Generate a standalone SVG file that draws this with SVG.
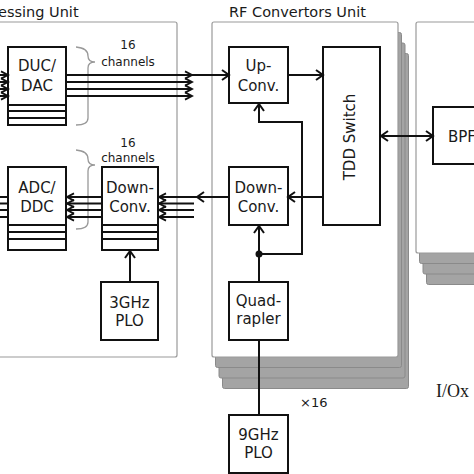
<svg xmlns="http://www.w3.org/2000/svg" width="474" height="474" viewBox="0 0 474 474">
<style>
.panel{fill:#fff;stroke:#9a9a9a;stroke-width:1.2}
.shadow{fill:#a4a4a4;stroke:#8a8a8a;stroke-width:1}
.box{fill:#fff;stroke:#111;stroke-width:2}
.sep{stroke:#111;stroke-width:2}
.lbl{font-family:"DejaVu Sans",Verdana,sans-serif;font-size:15px;fill:#1a1a1a;text-anchor:middle}
.title{font-family:"DejaVu Sans",Verdana,sans-serif;font-size:14.5px;fill:#1a1a1a}
.small{font-family:"DejaVu Sans",Verdana,sans-serif;font-size:12px;fill:#1a1a1a;text-anchor:middle}
.ln{fill:none;stroke:#111;stroke-width:2}
.brace{fill:none;stroke:#999;stroke-width:1.3}
</style>
<defs>
<marker id="ah" viewBox="-9 -7 11 14" markerWidth="11" markerHeight="14" refX="0" refY="0" orient="auto-start-reverse" markerUnits="userSpaceOnUse" overflow="visible"><path d="M-7,-5 L0,0 L-7,5" fill="none" stroke="#111" stroke-width="2"/></marker>
<marker id="as" viewBox="-9 -6 11 12" markerWidth="11" markerHeight="12" refX="0" refY="0" orient="auto" markerUnits="userSpaceOnUse" overflow="visible"><path d="M-7,-3.6 L0,0 L-7,3.6" fill="none" stroke="#111" stroke-width="1.8"/></marker>
</defs>
<rect x="0" y="0" width="474" height="474" fill="#fff"/>

<g id="processing-unit">
<rect class="panel" x="-10" y="22" width="187" height="335" rx="2"/>
<text class="title" x="-2" y="17">essing Unit</text>
</g>

<g id="rf-unit">
<rect class="shadow" x="222.5" y="53.5" width="186" height="335" rx="2"/>
<rect class="shadow" x="219" y="43" width="186" height="335" rx="2"/>
<rect class="shadow" x="215.5" y="32.5" width="186" height="335" rx="2"/>
<rect class="panel" x="212" y="22" width="186" height="335" rx="2"/>
<text class="title" x="229" y="17">RF Convertors Unit</text>
<text x="300" y="407" style="font-family:'DejaVu Sans',sans-serif;font-size:13px;fill:#1a1a1a">×16</text>
</g>

<g id="io-unit">
<rect class="shadow" x="426.5" y="53.5" width="80" height="231" rx="2"/>
<rect class="shadow" x="423" y="43" width="80" height="231" rx="2"/>
<rect class="shadow" x="419.5" y="32.5" width="80" height="231" rx="2"/>
<rect class="panel" x="416" y="22" width="80" height="231" rx="2"/>
<text x="436" y="397" style="font-family:'Liberation Serif',serif;font-size:18px;fill:#1a1a1a">I/Ox</text>
</g>

<g id="duc-dac">
<rect class="box" x="8" y="47" width="58" height="78"/>
<line class="sep" x1="8" y1="105" x2="66" y2="105"/>
<line class="sep" x1="8" y1="111" x2="66" y2="111"/>
<line class="sep" x1="8" y1="118" x2="66" y2="118"/>
<text class="lbl" x="37" y="71">DUC/</text>
<text class="lbl" x="37" y="91">DAC</text>
</g>

<g id="adc-ddc">
<rect class="box" x="8" y="167" width="58" height="83"/>
<line class="sep" x1="8" y1="225" x2="66" y2="225"/>
<line class="sep" x1="8" y1="232" x2="66" y2="232"/>
<line class="sep" x1="8" y1="239" x2="66" y2="239"/>
<text class="lbl" x="37" y="193">ADC/</text>
<text class="lbl" x="37" y="212">DDC</text>
</g>

<g id="proc-down-conv">
<rect class="box" x="102" y="167" width="56" height="83"/>
<line class="sep" x1="102" y1="225" x2="158" y2="225"/>
<line class="sep" x1="102" y1="232" x2="158" y2="232"/>
<line class="sep" x1="102" y1="239" x2="158" y2="239"/>
<text class="lbl" x="130" y="193">Down-</text>
<text class="lbl" x="130" y="212">Conv.</text>
</g>

<g id="plo-3ghz">
<rect class="box" x="101" y="282" width="57" height="58"/>
<text class="lbl" x="129.5" y="308">3GHz</text>
<text class="lbl" x="129.5" y="326">PLO</text>
</g>

<g id="up-conv">
<rect class="box" x="229" y="47" width="59" height="56"/>
<text class="lbl" x="258.5" y="71">Up-</text>
<text class="lbl" x="258.5" y="91">Conv.</text>
</g>

<g id="rf-down-conv">
<rect class="box" x="229" y="167" width="59" height="58"/>
<text class="lbl" x="258.5" y="193">Down-</text>
<text class="lbl" x="258.5" y="212">Conv.</text>
</g>

<g id="tdd-switch">
<rect class="box" x="323" y="47" width="57" height="178"/>
<text class="lbl" transform="translate(355,137) rotate(-90)" x="0" y="0">TDD Switch</text>
</g>

<g id="quadrapler">
<rect class="box" x="229" y="282" width="59" height="58"/>
<text class="lbl" x="258.5" y="306">Quad-</text>
<text class="lbl" x="258.5" y="324">rapler</text>
</g>

<g id="plo-9ghz">
<rect class="box" x="229" y="415" width="59" height="58"/>
<text class="lbl" x="258.5" y="440">9GHz</text>
<text class="lbl" x="258.5" y="458">PLO</text>
</g>

<g id="bpf">
<rect class="box" x="433" y="107" width="60" height="57"/>
<text class="lbl" x="448" y="142" style="text-anchor:start">BPF</text>
</g>

<g id="channel-labels">
<path class="brace" d="M76,47 Q88,48 88,56 Q88,62 95,62 Q88,62 88,68 L88,118 Q88,125 76,125"/>
<text class="small" x="128" y="49">16</text>
<text class="small" x="128" y="65.5">channels</text>
<path class="brace" d="M76,150 Q88,151 88,159 Q88,165 95,165 Q88,165 88,171 L88,222 Q88,229 76,229"/>
<text class="small" x="128" y="146.5">16</text>
<text class="small" x="128" y="161.5">channels</text>
</g>

<g id="connectors">
<!-- into DUC/DAC from left -->
<line class="ln" x1="-4" y1="75" x2="8" y2="75" marker-end="url(#as)"/>
<line class="ln" x1="-4" y1="82" x2="8" y2="82" marker-end="url(#as)"/>
<line class="ln" x1="-4" y1="89" x2="8" y2="89" marker-end="url(#as)"/>
<line class="ln" x1="-4" y1="96" x2="8" y2="96" marker-end="url(#as)"/>
<!-- DUC/DAC out -->
<line class="ln" x1="66" y1="75" x2="192" y2="75" marker-end="url(#as)"/>
<line class="ln" x1="66" y1="82" x2="192" y2="82" marker-end="url(#as)"/>
<line class="ln" x1="66" y1="89" x2="192" y2="89" marker-end="url(#as)"/>
<line class="ln" x1="66" y1="96" x2="192" y2="96" marker-end="url(#as)"/>
<line class="ln" x1="192" y1="75" x2="229" y2="75" marker-end="url(#ah)"/>
<!-- Up-Conv to TDD -->
<line class="ln" x1="288" y1="75" x2="323" y2="75" marker-end="url(#ah)"/>
<!-- TDD to BPF -->
<line class="ln" x1="381" y1="136" x2="433" y2="136" marker-start="url(#ah)" marker-end="url(#ah)"/>
<!-- TDD to RF Down-Conv -->
<line class="ln" x1="323" y1="197" x2="288" y2="197" marker-end="url(#ah)"/>
<!-- RF Down-Conv out -->
<line class="ln" x1="229" y1="197" x2="197" y2="197" marker-end="url(#ah)"/>
<line class="ln" x1="197" y1="197" x2="159" y2="197" marker-end="url(#as)"/>
<line class="ln" x1="194" y1="203.5" x2="159" y2="203.5" marker-end="url(#as)"/>
<line class="ln" x1="194" y1="210" x2="159" y2="210" marker-end="url(#as)"/>
<line class="ln" x1="194" y1="217" x2="159" y2="217" marker-end="url(#as)"/>
<!-- Proc Down-Conv to ADC/DDC -->
<line class="ln" x1="102" y1="197" x2="67" y2="197" marker-end="url(#as)"/>
<line class="ln" x1="102" y1="203.5" x2="67" y2="203.5" marker-end="url(#as)"/>
<line class="ln" x1="102" y1="210" x2="67" y2="210" marker-end="url(#as)"/>
<line class="ln" x1="102" y1="217" x2="67" y2="217" marker-end="url(#as)"/>
<!-- ADC/DDC out to left -->
<line class="ln" x1="8" y1="197" x2="-4" y2="197"/>
<line class="ln" x1="8" y1="203.5" x2="-4" y2="203.5"/>
<line class="ln" x1="8" y1="210" x2="-4" y2="210"/>
<line class="ln" x1="8" y1="217" x2="-4" y2="217"/>
<!-- 3GHz PLO to Down-Conv -->
<line class="ln" x1="130" y1="282" x2="130" y2="251" marker-end="url(#ah)"/>
<!-- LO distribution -->
<path class="ln" d="M259,254 H302 V122 H259 V104" marker-end="url(#ah)"/>
<line class="ln" x1="259" y1="282" x2="259" y2="226" marker-end="url(#ah)"/>
<circle cx="259" cy="254" r="3.5" fill="#111"/>
<line class="ln" x1="259" y1="340" x2="259" y2="415"/>
</g>
</svg>
